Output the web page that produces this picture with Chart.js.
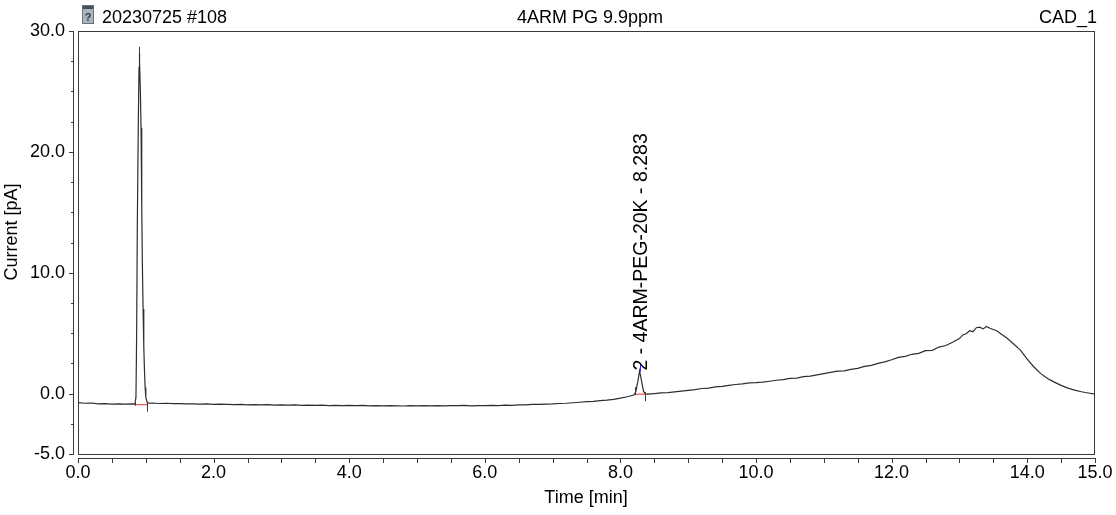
<!DOCTYPE html>
<html><head><meta charset="utf-8">
<script src="https://cdn.jsdelivr.net/npm/chart.js@4.4.1/dist/chart.umd.min.js"></script>
<style>html,body{margin:0;padding:0;background:#fff;}#wrap{width:1116px;height:515px;position:relative;}canvas{display:block;}</style>
</head><body><div id="wrap"><canvas id="c" width="1116" height="515" style="width:1116px;height:515px"></canvas></div>
<script>
// ---- data ----
const times = [
 0.0,0.1,0.2,0.3,0.4,0.5,0.6,0.7,0.8,0.84,0.855,0.865,0.875,0.89,0.90,0.905,0.91,0.92,0.93,0.94,0.95,0.96,0.97,0.98,0.99,1.00,1.02,1.05,
 1.1,1.2,1.3,1.4,1.5,1.6,1.7,1.8,1.9,2.0,2.1,2.2,2.3,2.4,2.5,2.6,2.7,2.8,2.9,3.0,3.1,3.2,3.3,3.4,3.5,3.6,3.7,3.8,3.9,
 4.0,4.1,4.2,4.3,4.4,4.5,4.6,4.7,4.8,4.9,5.0,5.1,5.2,5.3,5.4,5.5,5.6,5.7,5.8,5.9,6.0,6.1,6.2,6.3,6.4,6.5,6.6,6.7,6.8,6.9,
 7.0,7.1,7.2,7.3,7.4,7.5,7.6,7.7,7.8,7.9,8.0,8.1,8.2,8.23,8.26,8.283,8.31,8.34,8.37,8.4,8.5,8.6,8.7,8.8,8.9,
 9.0,9.1,9.2,9.3,9.4,9.5,9.6,9.7,9.8,9.9,10.0,10.1,10.2,10.3,10.4,10.5,10.6,10.7,10.8,10.9,
 11.0,11.1,11.2,11.3,11.4,11.5,11.6,11.7,11.8,11.9,12.0,12.1,12.2,12.3,12.4,12.5,12.6,12.7,12.8,12.9,
 13.0,13.05,13.1,13.15,13.2,13.25,13.3,13.35,13.4,13.45,13.5,13.55,13.6,13.7,13.8,13.9,
 14.0,14.1,14.2,14.3,14.4,14.5,14.6,14.7,14.8,14.9,15.0
];
const currents = [
 -0.75,-0.80,-0.78,-0.86,-0.84,-0.88,-0.85,-0.87,-0.85,-0.88,-0.30,5.0,14.0,22.6,27.0,28.2,27.5,25.0,22.0,15.5,10.5,7.0,4.0,2.0,0.5,-0.30,-0.72,-0.80,
 -0.78,-0.82,-0.80,-0.84,-0.83,-0.86,-0.85,-0.88,-0.86,-0.90,-0.88,-0.90,-0.92,-0.89,-0.93,-0.91,-0.94,-0.92,-0.95,-0.93,-0.96,-0.94,-0.97,-0.95,-0.98,-0.96,-0.99,-0.97,-1.00,
 -0.97,-1.00,-0.98,-1.01,-0.99,-1.02,-0.99,-1.01,-1.03,-1.00,-1.02,-0.99,-1.01,-1.00,-1.02,-0.99,-1.00,-0.98,-1.01,-0.99,-1.00,-0.98,-0.99,-0.96,-0.97,-0.94,-0.93,-0.90,-0.90,-0.87,
 -0.86,-0.82,-0.80,-0.76,-0.72,-0.67,-0.64,-0.58,-0.55,-0.48,-0.38,-0.26,-0.12,0.2,1.1,1.9,1.1,0.2,-0.05,-0.04,0.0,0.05,0.08,0.14,0.2,
 0.27,0.33,0.42,0.45,0.55,0.60,0.68,0.75,0.80,0.88,0.90,0.95,1.02,1.10,1.15,1.25,1.28,1.40,1.45,1.55,
 1.65,1.75,1.85,1.88,2.00,2.08,2.25,2.33,2.50,2.62,2.80,3.00,3.08,3.25,3.33,3.55,3.58,3.85,3.98,4.25,
 4.55,4.85,4.95,5.20,5.12,5.45,5.50,5.35,5.55,5.40,5.30,5.20,5.00,4.60,4.10,3.60,
 2.85,2.20,1.65,1.25,0.95,0.68,0.45,0.28,0.15,0.05,-0.05
];
const xTickValues = [0, 2, 4, 6, 8, 10, 12, 14, 15];
const yTickValues = [-5, 0, 10, 20, 30];
const xMinorStep = 0.5;
const yMinorStep = 2.5;
const headerLeft = '20230725 #108';
const headerCenter = '4ARM PG 9.9ppm';
const headerRight = 'CAD_1';
const xTitle = 'Time [min]';
const yTitle = 'Current [pA]';
const peakNames = ['', '2 - 4ARM-PEG-20K - 8.283'];
const peakStarts = [0.84, 8.215];
const peakEnds = [1.025, 8.365];
const peakApexTimes = [0.905, 8.283];
const peakApexValues = [28.2, 1.9];
const peakBaseStart = [-0.92, -0.05];
const peakBaseEnd = [-0.92, -0.05];

const FONT = '"Liberation Sans", Arial, sans-serif';

const decor = {
  id: 'decor',
  afterDraw(chart) {
    const { ctx, chartArea: a, scales: { x, y } } = chart;
    ctx.save();
    ctx.strokeStyle = '#3a3a3a';
    ctx.lineWidth = 1;
    const L = Math.round(a.left), T = Math.round(a.top), R = Math.round(a.right), B = Math.round(a.bottom);
    ctx.strokeRect(L + 0.5, T + 0.5, R - L - 1, B - T);
    ctx.beginPath();
    ctx.moveTo(L - 4.5, T); ctx.lineTo(L - 4.5, B + 1);
    ctx.moveTo(L, B + 4.5); ctx.lineTo(R, B + 4.5);
    for (let v = -5; v <= 30.001; v += yMinorStep) {
      const py = Math.round(y.getPixelForValue(v)) + 0.5;
      const major = yTickValues.some(t => Math.abs(t - v) < 1e-6);
      ctx.moveTo(L - 4, py); ctx.lineTo(L - (major ? 9 : 7), py);
    }
    for (let v = 0; v <= 15.001; v += xMinorStep) {
      const px = Math.round(x.getPixelForValue(v)) + 0.5;
      ctx.moveTo(px, B + 4); ctx.lineTo(px, B + 9);
    }
    ctx.stroke();

    for (let i = 0; i < peakStarts.length; i++) {
      const xs = x.getPixelForValue(peakStarts[i]), xe = x.getPixelForValue(peakEnds[i]);
      const ys = y.getPixelForValue(peakBaseStart[i]), ye = y.getPixelForValue(peakBaseEnd[i]);
      ctx.strokeStyle = '#e03030';
      ctx.beginPath(); ctx.moveTo(xs, ys); ctx.lineTo(xe, ye); ctx.stroke();
      ctx.strokeStyle = '#2a2ad0';
      ctx.beginPath();
      ctx.moveTo(Math.round(xs) + 0.5, ys - 7); ctx.lineTo(Math.round(xs) + 0.5, ys + 1);
      ctx.moveTo(Math.round(xe) + 0.5, ye - 2); ctx.lineTo(Math.round(xe) + 0.5, ye + 7);
      const xa = Math.round(x.getPixelForValue(peakApexTimes[i])) + 0.5, ya = y.getPixelForValue(peakApexValues[i]);
      ctx.moveTo(xa, ya - 6); ctx.lineTo(xa, ya + 1);
      ctx.stroke();
      if (peakNames[i]) {
        ctx.save();
        ctx.translate(xa + 6, ya + 0);
        ctx.rotate(-Math.PI / 2);
        ctx.fillStyle = '#000';
        ctx.font = '19.5px ' + FONT;
        ctx.textAlign = 'left';
        ctx.textBaseline = 'alphabetic';
        ctx.fillText(peakNames[i], 0, 0);
        ctx.restore();
      }
    }

    ctx.fillStyle = '#000';
    ctx.font = '18px ' + FONT;
    ctx.textBaseline = 'alphabetic';
    ctx.textAlign = 'left';
    ctx.fillText(headerLeft, 102, 23);
    ctx.textAlign = 'center';
    ctx.fillText(headerCenter, 590, 23);
    ctx.textAlign = 'right';
    ctx.fillText(headerRight, 1097, 23);
    ctx.fillStyle = '#a9b4bf';
    ctx.fillRect(82, 6, 12, 18);
    ctx.fillStyle = '#4a4f55';
    ctx.fillRect(82, 5, 12, 4);
    ctx.strokeStyle = '#6b737b';
    ctx.strokeRect(82.5, 5.5, 11, 18);
    ctx.fillStyle = '#2c3640';
    ctx.font = 'bold 11px ' + FONT;
    ctx.textAlign = 'center';
    ctx.fillText('?', 88, 21);

    ctx.fillStyle = '#000';
    ctx.font = '18px ' + FONT;
    ctx.textAlign = 'center';
    ctx.fillText(xTitle, 586, 503);
    ctx.save();
    ctx.translate(17, 232);
    ctx.rotate(-Math.PI / 2);
    ctx.fillText(yTitle, 0, 0);
    ctx.restore();
    ctx.restore();
  }
};

new Chart(document.getElementById('c'), {
  type: 'line',
  data: {
    datasets: [{
      data: times.map((t, i) => ({ x: t, y: currents[i] })),
      borderColor: '#2e2e2e',
      borderWidth: 1.2,
      pointRadius: 0,
      tension: 0,
      fill: false
    }]
  },
  options: {
    responsive: false,
    animation: false,
    devicePixelRatio: 1,
    layout: { padding: { top: 31, right: 21, left: 0, bottom: 0 } },
    plugins: { legend: { display: false }, tooltip: { enabled: false } },
    scales: {
      x: {
        type: 'linear', min: 0, max: 15,
        grid: { display: false, drawTicks: false },
        border: { display: false },
        afterBuildTicks: s => { s.ticks = xTickValues.map(v => ({ value: v })); },
        afterFit: s => { s.height = 61; s.paddingLeft = 0; s.paddingRight = 0; },
        ticks: {
          autoSkip: false, maxRotation: 0, padding: 8, color: '#000',
          font: { family: FONT, size: 18 },
          callback: v => Number(v).toFixed(1)
        }
      },
      y: {
        type: 'linear', min: -5, max: 30,
        grid: { display: false, drawTicks: false },
        border: { display: false },
        afterBuildTicks: s => { s.ticks = yTickValues.map(v => ({ value: v })); },
        afterFit: s => { s.width = 78; s.paddingTop = 0; s.paddingBottom = 0; },
        ticks: {
          padding: 13, color: '#000',
          font: { family: FONT, size: 18 },
          callback: v => Number(v).toFixed(1)
        }
      }
    }
  },
  plugins: [decor]
});
</script>
</body></html>
